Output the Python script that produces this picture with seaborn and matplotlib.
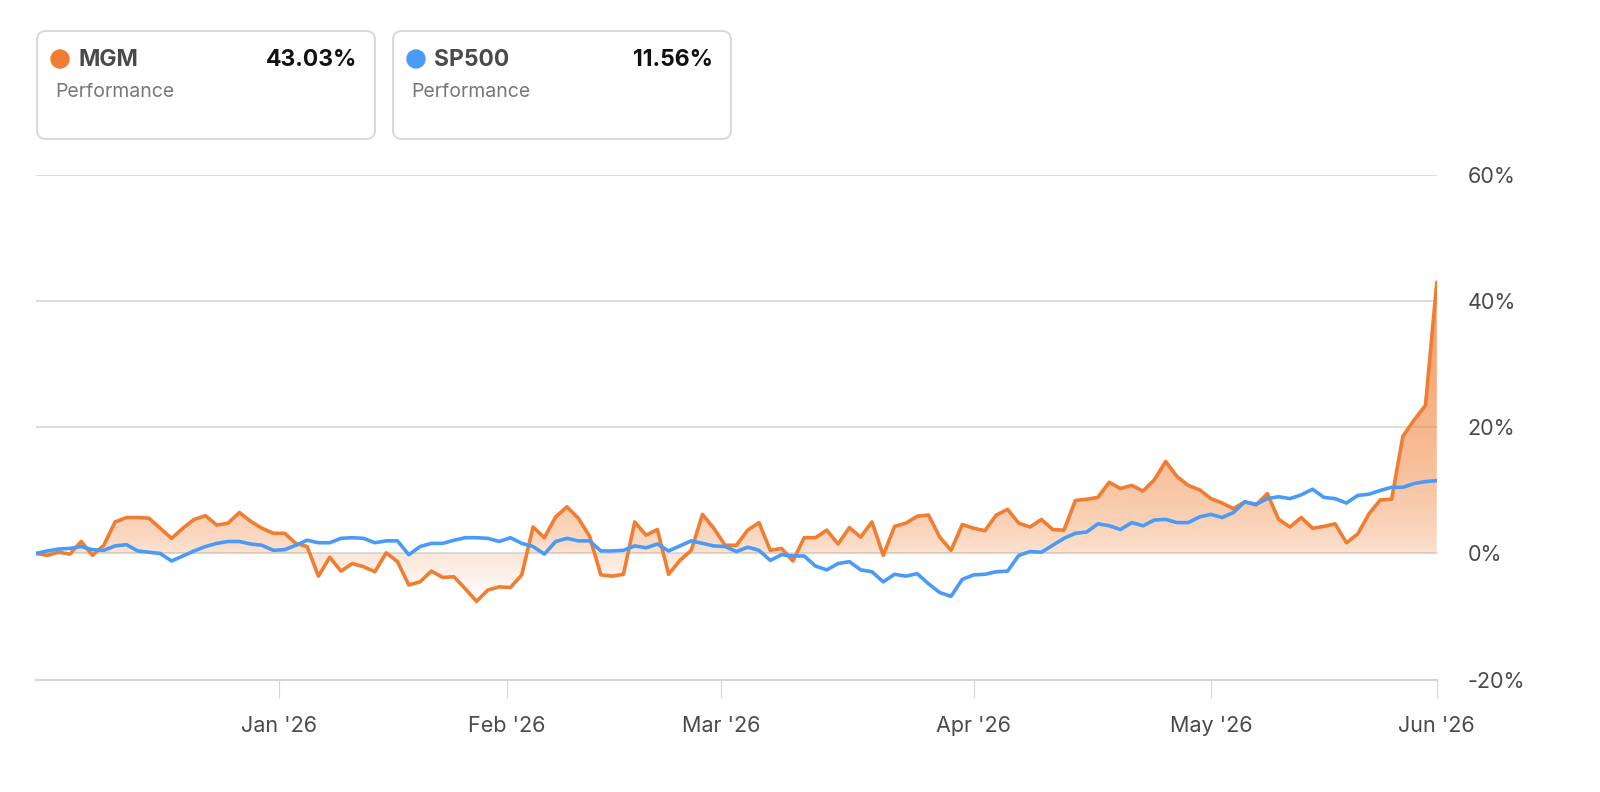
import numpy as np
import pandas as pd
import matplotlib.pyplot as plt
import seaborn as sns
from matplotlib.patches import FancyBboxPatch, Circle
from matplotlib.colors import to_rgb

# trading days Dec 1 2025 .. Jun 1 2026
holidays = ['2025-12-25', '2026-01-01', '2026-01-19', '2026-02-16', '2026-04-03', '2026-05-25']
dates = pd.bdate_range('2025-12-01', '2026-06-01', freq='C', holidays=holidays)

mgm = [0.0, -0.3, 0.2, -0.1, 1.9, -0.3, 1.3, 5.0, 5.7, 5.7,
       5.6, 4.0, 2.4, 4.0, 5.4, 6.0, 4.5, 4.8, 6.5, 5.1,
       4.0, 3.2, 3.2, 1.6, 1.1, -3.6, -0.6, -2.8, -1.6, -2.1,
       -2.9, 0.1, -1.3, -5.0, -4.5, -2.8, -3.8, -3.7, -5.6, -7.6,
       -5.8, -5.3, -5.4, -3.4, 4.2, 2.5, 5.8, 7.4, 5.6, 2.75,
       -3.4, -3.6, -3.3, 5.0, 2.9, 3.8, -3.3, -1.1, 0.5, 6.2,
       4.0, 1.3, 1.3, 3.7, 4.9, 0.5, 0.8, -1.2, 2.5, 2.5,
       3.7, 1.5, 4.1, 2.6, 5.0, -0.3, 4.3, 4.8, 5.9, 6.1,
       2.6, 0.5, 4.6, 4.0, 3.6, 6.1, 7.0, 4.8, 4.2, 5.4,
       3.8, 3.7, 8.4, 8.6, 8.9, 11.3, 10.3, 10.8, 9.9, 11.7,
       14.6, 12.2, 10.8, 10.1, 8.7, 8.0, 7.1, 8.2, 7.7, 9.5,
       5.4, 4.2, 5.7, 4.0, 4.3, 4.7, 1.7, 3.1, 6.3, 8.5,
       8.6, 18.6, 21.2, 23.5, 43.03]

sp500 = [0.0, 0.4, 0.7, 0.8, 1.1, 0.6, 0.5, 1.2, 1.4, 0.4,
         0.2, 0.0, -1.2, -0.4, 0.4, 1.1, 1.6, 1.9, 1.9, 1.5,
         1.3, 0.5, 0.6, 1.3, 2.1, 1.7, 1.7, 2.4, 2.5, 2.4,
         1.7, 2.0, 2.0, -0.2, 1.1, 1.6, 1.6, 2.1, 2.5, 2.5,
         2.4, 1.9, 2.5, 1.6, 1.1, -0.1, 1.9, 2.4, 2.0, 2.0,
         0.4, 0.4, 0.5, 1.2, 0.9, 1.5, 0.4, 1.2, 2.0, 1.6,
         1.2, 1.1, 0.3, 1.0, 0.5, -1.1, -0.2, -0.4, -0.4, -2.0,
         -2.6, -1.6, -1.3, -2.6, -2.9, -4.5, -3.3, -3.6, -3.2, -4.8,
         -6.2, -6.8, -4.1, -3.4, -3.3, -2.9, -2.8, -0.3, 0.3, 0.2,
         1.3, 2.4, 3.2, 3.4, 4.7, 4.4, 3.8, 4.9, 4.4, 5.3,
         5.4, 4.9, 4.9, 5.8, 6.2, 5.7, 6.5, 8.2, 7.8, 8.7,
         9.0, 8.7, 9.3, 10.2, 8.9, 8.7, 8.0, 9.2, 9.4, 10.0,
         10.5, 10.5, 11.1, 11.4, 11.56]

month_starts = pd.date_range('2026-01-01', '2026-06-01', freq='MS')
month_labels = ["Jan '26", "Feb '26", "Mar '26", "Apr '26", "May '26", "Jun '26"]
y_ticks = [-20, 0, 20, 40, 60]

ORANGE = '#f07d31'
BLUE = '#4a9bf7'

df = pd.DataFrame({'idx': np.arange(len(dates)), 'date': dates, 'MGM': mgm, 'SP500': sp500})
long = df.melt(id_vars=['idx', 'date'], value_vars=['MGM', 'SP500'],
               var_name='series', value_name='perf')

sns.set_theme(style='white')
plt.rcParams['font.family'] = ['Inter', 'DejaVu Sans']

fig = plt.figure(figsize=(16, 7.92), dpi=100)
ax = fig.add_axes([0.0225, 0.142, 0.898 - 0.0225, 0.7787 - 0.142])

# gradient fill under MGM, clipped to the area between line and zero
yy = np.linspace(-20, 60, 500)
top = max(mgm)
alpha = np.where(yy >= 0,
                 0.19 + 0.58 * (np.clip(yy, 0, None) / top) ** 0.6,
                 0.19 * np.clip(1 + yy / 8, 0, 1))
alpha = np.clip(alpha, 0, 0.8)
img = np.zeros((len(yy), 1, 4))
img[..., :3] = to_rgb(ORANGE)
img[..., 3] = alpha[:, None]
im = ax.imshow(img, extent=[0, len(dates) - 1, -20, 60], origin='lower',
               aspect='auto', zorder=1, interpolation='bilinear')
poly = ax.fill_between(df['idx'], df['MGM'], 0, facecolor='none', edgecolor='none')
im.set_clip_path(poly.get_paths()[0], transform=ax.transData)

sns.lineplot(data=long, x='idx', y='perf', hue='series',
             palette={'MGM': ORANGE, 'SP500': BLUE}, linewidth=2.6,
             legend=False, ax=ax, zorder=3)

# axes styling
ax.set_xlim(0, len(dates) - 1)
ax.set_ylim(-20, 60)
xt = np.interp(month_starts.values.astype('int64'), dates.values.astype('int64'), df['idx'])
ax.set_xticks(xt)
ax.set_xticklabels(month_labels)
ax.set_yticks(y_ticks)
ax.set_yticklabels([f'{v}%' for v in y_ticks])
ax.yaxis.tick_right()
ax.yaxis.grid(True, color='#dddddd', lw=1.4)
ax.xaxis.grid(False)
ax.tick_params(axis='y', length=0, pad=22, labelsize=15.5, labelcolor='#4a4a4a')
ax.tick_params(axis='x', bottom=True, length=13, width=0.8, color='#d6d6d6',
               pad=13, labelsize=15.5, labelcolor='#4a4a4a')
for s in ['top', 'left', 'right']:
    ax.spines[s].set_visible(False)
ax.spines['bottom'].set_color('#d4d4d4')
ax.spines['bottom'].set_linewidth(1.5)
ax.set_xlabel('')
ax.set_ylabel('')

# legend cards on top
ov = fig.add_axes([0, 0, 1, 1])
ov.set_xlim(0, 1600)
ov.set_ylim(792, 0)
ov.axis('off')
cards = [('MGM', '43.03%', ORANGE, 37), ('SP500', '11.56%', BLUE, 393)]
for name, val, col, x0 in cards:
    ov.add_patch(FancyBboxPatch((x0, 31), 338, 108, boxstyle='round,pad=0,rounding_size=9',
                                facecolor='white', edgecolor='#d9d9d9', lw=1.4))
    ov.add_patch(Circle((x0 + 23, 59), 9, color=col))
    ov.text(x0 + 41, 60, name, fontsize=16.5, fontweight='bold', color='#4a4a4a',
            va='center', ha='left')
    ov.text(x0 + 320, 60, val, fontsize=16.5, fontweight='bold', color='#111111',
            va='center', ha='right')
    ov.text(x0 + 18, 92, 'Performance', fontsize=14, color='#777777',
            va='center', ha='left')

plt.savefig('out.png', dpi=100)
plt.close()
